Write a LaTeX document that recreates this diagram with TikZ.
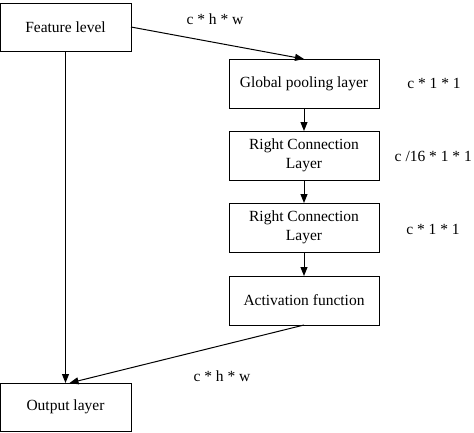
\documentclass[tikz,border=0pt]{standalone}
\usepackage{fontspec}
\setmainfont{Liberation Serif}
\usetikzlibrary{positioning,arrows.meta}
\begin{document}
\begin{tikzpicture}[layer/.style={draw,line width=1pt,minimum width=150pt,minimum height=49pt,align=center,inner sep=1pt,outer sep=0pt,node distance=23pt},
	dim/.style={inner sep=0pt},
	flow/.style={line width=1pt,-{Triangle[length=9pt,width=7pt]}}]
	\fontsize{15.5}{19}\selectfont
	\useasboundingbox (0,0) rectangle (474pt,-432pt);
	% left column
	\node[layer,minimum width=131pt,minimum height=48pt] at (65.5pt,-27pt) (feat) {Feature level};
	\node[layer,minimum width=131pt,minimum height=48pt] at (65.5pt,-407pt) (out) {Output layer};
	% right column
	\node[layer] at (304pt,-83.5pt) (pool) {Global pooling layer};
	\node[layer,below=of pool] (rc1) {Right Connection\\Layer};
	\node[layer,below=of rc1] (rc2) {Right Connection\\Layer};
	\node[layer,below=24pt of rc2] (act) {Activation function};
	% sizes
	\node[dim] at (215pt,-19pt) (d1) {c * h * w};
	\node[dim] at (434pt,-83pt) (d2) {c * 1 * 1};
	\node[dim,anchor=east] at (472pt,-156pt) (d3) {c /16 * 1 * 1};
	\node[dim] at (433pt,-229pt) (d4) {c * 1 * 1};
	\node[dim] at (222pt,-376pt) (d5) {c * h * w};
	% arrows
	\draw[flow] (feat.east) -- (pool.north);
	\draw[flow] (pool) -- (rc1);
	\draw[flow] (rc1) -- (rc2);
	\draw[flow] (rc2) -- (act);
	\draw[flow] (feat) -- (out);
	\draw[flow] (act.south) -- ([xshift=4pt]out.north);
\end{tikzpicture}
\end{document}
